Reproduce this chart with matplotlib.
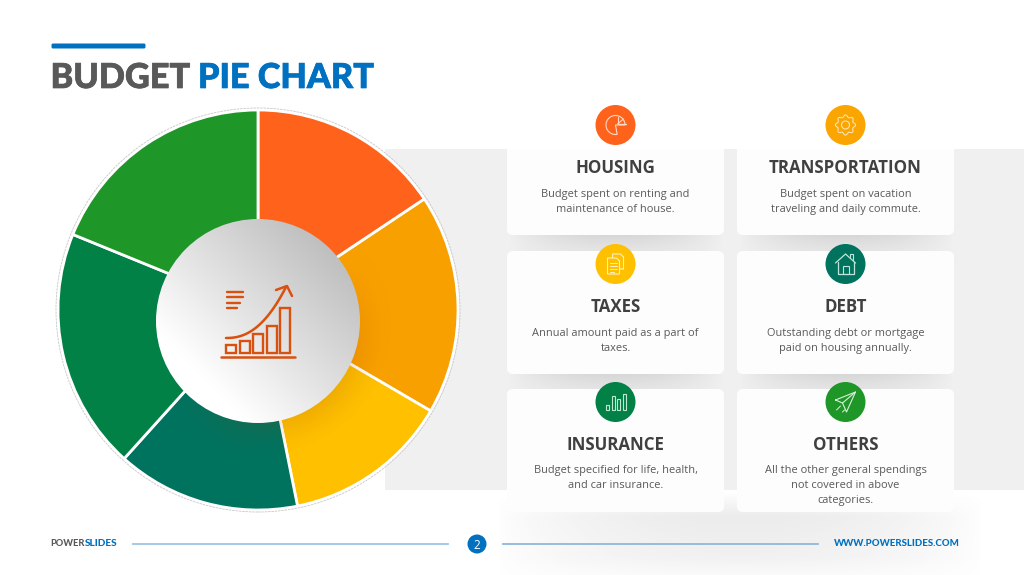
import numpy as np
import matplotlib
matplotlib.use("Agg")
import matplotlib.pyplot as plt
import matplotlib.patheffects as pe
from matplotlib.patches import Circle, FancyBboxPatch, Rectangle, Polygon, Wedge

shares = [56.3, 64.0, 48.3, 53.4, 70.2, 67.8]
colors = ["#ff631b", "#f9a001", "#ffc000", "#00735f", "#018146", "#1f9628"]

titles = ["HOUSING", "TRANSPORTATION", "TAXES", "DEBT", "INSURANCE", "OTHERS"]
texts = [
    "Budget spent on renting and\nmaintenance of house.",
    "Budget spent on vacation\ntraveling and daily commute.",
    "Annual amount paid as a part of\ntaxes.",
    "Outstanding debt or mortgage\npaid on housing annually.",
    "Budget specified for life, health,\nand car insurance.",
    "All the other general spendings\nnot covered in above\ncategories.",
]
card_cols = [615.5, 845.5]
card_rows = [(149, 235), (251, 374), (389, 512)]

BLUE = "#0070c0"
DARK = "#404040"
GREY = "#595959"

fig = plt.figure(figsize=(10.24, 5.75), dpi=100)
ax = fig.add_axes([0, 0, 1, 1])


def Y(y):
    return 575 - y


def soft(x0, x1, y0, y1, strength, decay=1.5, power=0.8, fade_in=0.0, zorder=2):
    # soft shadow, darkest at top middle
    u = np.linspace(0, 1, 120)
    v = np.linspace(0, 1, 60)
    uu, vv = np.meshgrid(u, v)
    a = strength * np.sin(np.pi * uu) ** power * np.exp(-decay * vv) * np.clip((1 - vv) * 3, 0, 1)
    if fade_in > 0:
        a = a * np.clip(vv / fade_in, 0, 1)
    img = np.zeros((60, 120, 4))
    img[..., :3] = 0.45
    img[..., 3] = a
    ax.imshow(img, extent=(x0, x1, Y(y1), Y(y0)), origin="upper", zorder=zorder,
              interpolation="bilinear", aspect="auto")


def line(xs, ys, color="white", lw=1.0, z=8):
    ax.plot(xs, [Y(v) for v in ys], color=color, lw=lw, zorder=z,
            solid_capstyle="round", solid_joinstyle="round")


def box(x0, y0, x1, y1, color="white", lw=0.9, z=8, fill="none"):
    ax.add_patch(Rectangle((x0, Y(y1)), x1 - x0, y1 - y0, fc=fill, ec=color, lw=lw, zorder=z))


# grey band behind the cards
ax.add_patch(Rectangle((385, Y(490)), 639, 341, fc="#f0f0f0", ec="none", zorder=1))

# shadows under the cards
for cx in card_cols:
    for top, bot in card_rows[:2]:
        soft(cx - 108, cx + 108, bot - 2, bot + 30, 0.22)
soft(495, 985, 492, 590, 0.17, decay=0.8, power=0.7, fade_in=0.25)

# cards
for cx in card_cols:
    for top, bot in card_rows:
        ax.add_patch(FancyBboxPatch((cx - 108.5 + 6, Y(bot) + 6), 217 - 12, bot - top - 12,
                                    boxstyle="round,pad=6,rounding_size=6",
                                    fc="#fdfdfd", ec="none", zorder=3))
    # square top edge for the top row, it melts in the white above
    ax.add_patch(Rectangle((cx - 108.5, Y(165)), 217, 16, fc="#fdfdfd", ec="none", zorder=3))

# donut, the hub drawn later is off centre and hides the hole
wedges, _ = ax.pie(shares, colors=colors, startangle=90, counterclock=False,
                   center=(258, Y(310)), radius=200, frame=True,
                   wedgeprops=dict(width=120, edgecolor="white", linewidth=2.0))
for w in wedges:
    w.set_zorder(4)
ax.add_patch(Circle((258, Y(310)), 202, fc="none", ec="#c8c8c8", lw=0.6, ls=(0, (3, 1)), zorder=4))

# shadow thrown by the hub on to the ring, lower right side
HX, HY, HR = 258, 321, 102
n = 300
xx, yy = np.meshgrid(np.linspace(HX - 150, HX + 150, n), np.linspace(HY - 150, HY + 150, n))
dist = np.hypot(xx - HX, yy - HY)
ang = np.arctan2(yy - HY, xx - HX)
fall = np.clip(1 - (dist - HR) / 36, 0, 1) ** 1.5
side = np.clip(np.cos(ang - np.radians(50)), 0, 1)
shade = np.zeros((n, n, 4))
shade[..., 0] = 0.6
shade[..., 1] = 0.25
shade[..., 3] = 0.15 * fall * side
sh = ax.imshow(shade, extent=(HX - 150, HX + 150, Y(HY + 150), Y(HY - 150)), origin="upper",
               zorder=4.5, interpolation="bilinear", aspect="auto")
sh.set_clip_path(Circle((258, Y(310)), 199, transform=ax.transData))

# hub with diagonal gradient
n = 200
xx, yy = np.meshgrid(np.linspace(-1, 1, n), np.linspace(1, -1, n))
val = np.clip(0.89 - 0.1 * (xx + yy), 0, 1)
img = np.dstack([val] * 3)
hub = ax.imshow(img, extent=(HX - HR, HX + HR, Y(HY + HR), Y(HY - HR)), origin="upper", zorder=5,
                interpolation="bilinear", aspect="auto")
hub.set_clip_path(Circle((HX, Y(HY)), HR, transform=ax.transData))

# hub icon
IC = "#d9500f"
line([221, 295], [357, 357], IC, 1.8)
for x0, x1, y0 in [(226, 236, 345), (240, 250, 341), (253, 263, 334), (267, 277, 326), (280, 290, 308)]:
    box(x0, y0, x1, 353, IC, 1.7)
for y, x1 in [(292, 243), (297, 243), (303, 240), (308, 237)]:
    line([227, x1], [y, y], IC, 1.7)
cx_ = np.linspace(226, 286, 30)
line(cx_, 338 - 51 * ((cx_ - 226) / 60) ** 2.3, IC, 1.8)
line([276, 287, 292], [290, 286, 296], IC, 1.8)

# title, rule on top
ax.add_patch(FancyBboxPatch((53, Y(47)), 91, 2, boxstyle="round,pad=1.5,rounding_size=1.5",
                            fc=BLUE, ec="none", zorder=6))
thick = [pe.withStroke(linewidth=0.5, foreground=GREY)]
ax.text(50.5, Y(88), "BUDGET", fontsize=24.7, fontweight="black", family="Lato", color=GREY,
        ha="left", va="baseline", zorder=6, path_effects=thick)
thick = [pe.withStroke(linewidth=0.5, foreground=BLUE)]
ax.text(198, Y(88), "PIE CHART", fontsize=24.7, fontweight="black", family="Lato", color=BLUE,
        ha="left", va="baseline", zorder=6, path_effects=thick)

# card text
heads = [173, 173, 312, 312, 450, 450]
firsts = [197, 197, 336, 336, 473, 473]
for i, (h, b) in enumerate(zip(titles, texts)):
    cx = card_cols[i % 2]
    ax.text(cx, Y(heads[i]), h, fontsize=12.2, fontweight="bold", family="Open Sans", color=DARK,
            ha="center", va="baseline", zorder=6)
    for k, row in enumerate(b.split("\n")):
        ax.text(cx, Y(firsts[i] + k * 15), row, fontsize=7.95, family="Open Sans", color=GREY,
                ha="center", va="baseline", zorder=6)

# round icons
badge_y = [125, 125, 264, 264, 402, 402]
badge_colors = ["#ff631b", "#fba500", "#ffc000", "#00735f", "#018146", "#1f9628"]
for i, c in enumerate(badge_colors):
    ax.add_patch(Circle((card_cols[i % 2], Y(badge_y[i])), 20, fc=c, ec="none", zorder=7))

# housing: small pie
x, y = 615.5, 125
ax.add_patch(Wedge((x, Y(y)), 9.5, 0, 280, fc="none", ec="#ffd9c4", lw=0.8, zorder=8))
line([x + 2, x + 2, x + 10, x + 2], [y - 8, y - 1, y - 1, y - 1], "#ffd9c4", 0.8)
line([x + 2, x + 8], [y - 1, y - 6], "#ffd9c4", 0.8)

# transportation: gear
x, y = 845.5, 125
th = np.linspace(0, 2 * np.pi, 200)
rad = 9 + 1.1 * np.cos(8 * th)
line(x + rad * np.cos(th), y + rad * np.sin(th), "#ffe3b0", 0.8)
ax.add_patch(Circle((x, Y(y)), 4, fc="none", ec="#ffe3b0", lw=0.8, zorder=8))

# taxes: two sheets
x, y = 615.5, 264
IW = "#fff0c0"
line([x - 3, x - 3, x + 5, x + 8, x + 8, x + 4], [y - 6, y - 10, y - 10, y - 7, y + 5, y + 5], IW, 0.8)
ax.add_patch(Polygon([(x - 8, Y(y - 6)), (x + 1, Y(y - 6)), (x + 4, Y(y - 3)), (x + 4, Y(y + 10)), (x - 8, Y(y + 10))],
                     fc="#ffc000", ec=IW, lw=0.8, zorder=8))
for dy, x1 in [(-1, 1), (2, 1), (5, 1), (7.5, -2)]:
    line([x - 5.5, x + x1], [y + dy, y + dy], IW, 0.7, z=9)

# debt: house
x, y = 845.5, 264
IW = "#bfe5d8"
line([x - 10, x, x + 10], [y - 1, y - 10, y - 1], IW, 0.9)
line([x - 8, x - 8, x + 8, x + 8], [y - 2, y + 10, y + 10, y - 2], IW, 0.9)
box(x - 3, y + 2, x + 3, y + 10, IW, 0.8)
line([x + 4, x + 4, x + 7, x + 7], [y - 7, y - 10, y - 10, y - 4], IW, 0.8)

# insurance: bars
x, y = 615.5, 402
IW = "#bfe8d0"
for bx, top in [(-8.5, 3), (-2.5, -6), (2.5, -3), (8.5, -8)]:
    box(x + bx - 1.5, y + top, x + bx + 1.5, y + 8, IW, 0.8)

# others: paper plane
x, y = 845.5, 402
IW = "#d8f0da"
line([x - 10, x + 10, x + 1, x - 3, x - 10], [y - 2, y - 10, y + 10, y + 1, y - 2], IW, 0.8)
line([x - 3, x + 10], [y + 1, y - 10], IW, 0.8)
line([x - 9, x - 5], [y + 8, y + 4], IW, 0.7)
line([x - 3, x - 1], [y + 10, y + 8], IW, 0.7)

# footer
ax.text(50.5, Y(546.5), "POWER", fontsize=6.7, fontweight="black", family="Lato", color=GREY,
        ha="left", va="baseline", zorder=6)
ax.text(84.5, Y(546.5), "SLIDES", fontsize=7.2, fontweight="black", family="Lato", color=BLUE,
        ha="left", va="baseline", zorder=6)
ax.plot([133, 448], [Y(544), Y(544)], color="#9cc6e6", lw=1.3, zorder=6)
ax.plot([503, 818], [Y(544), Y(544)], color="#8fb8da", lw=1.3, zorder=6)
ax.add_patch(Circle((477, Y(544)), 9.5, fc=BLUE, ec="none", zorder=6))
ax.text(477, Y(544), "2", fontsize=8.5, family="Open Sans", color="white", ha="center", va="center_baseline", zorder=7)
ax.text(960, Y(546.5), "WWW.POWERSLIDES.COM", fontsize=6.9, fontweight="black", family="Lato", color=BLUE,
        ha="right", va="baseline", zorder=6)

ax.set_xlim(0, 1024)
ax.set_ylim(0, 575)
ax.set_aspect("auto")
ax.axis("off")

fig.savefig("out.png", dpi=100, facecolor="white")
